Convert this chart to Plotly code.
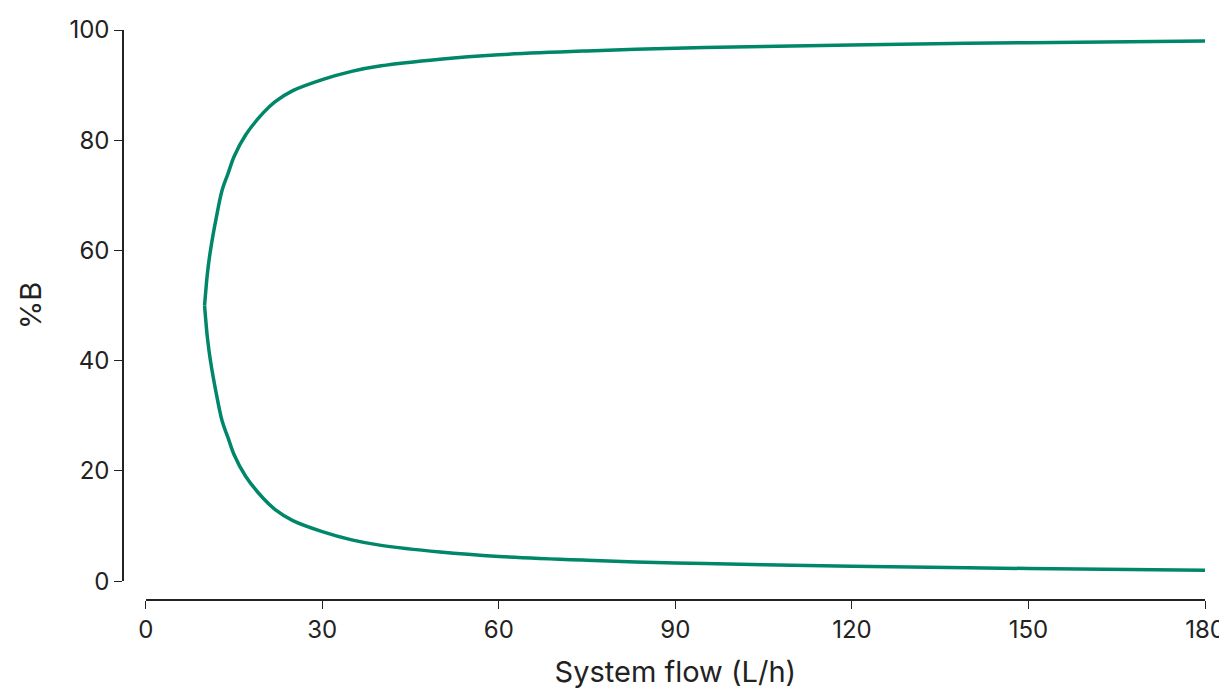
import plotly.graph_objects as go

flow = [10, 10.5, 11, 12, 13, 14, 15, 17, 20, 22, 25, 30, 35, 40, 50, 60, 75, 90, 105, 120, 150, 180]
upper = [50, 56, 60, 66, 71, 74, 77, 81, 85, 87, 89, 91, 92.5, 93.5, 94.7, 95.5, 96.2, 96.7, 97.0, 97.3, 97.7, 98.0]
lower = [100 - v for v in upper]

green = "#00876a"
fig = go.Figure()
fig.add_trace(go.Scatter(x=flow, y=upper, mode="lines", line=dict(color=green, width=3.5, shape="spline")))
fig.add_trace(go.Scatter(x=flow, y=lower, mode="lines", line=dict(color=green, width=3.5, shape="spline")))

font = dict(family="Inter, Roboto, sans-serif", size=24, color="#222")
fig.update_layout(
    width=1227, height=698, showlegend=False, font=font,
    plot_bgcolor="white", paper_bgcolor="white",
    margin=dict(l=115, r=30, t=22, b=106, autoexpand=False),
    xaxis=dict(range=[0, 180], domain=[0.021, 1], anchor="free", position=0, automargin=False,
               tickvals=[0, 30, 60, 90, 120, 150, 180], showgrid=False, zeroline=False,
               showline=True, linecolor="#222", linewidth=1.5, ticks="outside", ticklen=8,
               tickcolor="#222", title=dict(text="System flow (L/h)", standoff=18)),
    yaxis=dict(range=[0, 100], domain=[0.033, 1], anchor="free", position=0, automargin=False,
               tickvals=[0, 20, 40, 60, 80, 100], showgrid=False, zeroline=False,
               showline=True, linecolor="#222", linewidth=1.5, ticks="outside", ticklen=8,
               tickcolor="#222", title=dict(text="%B", standoff=18)),
)
fig.write_html("out.html")
